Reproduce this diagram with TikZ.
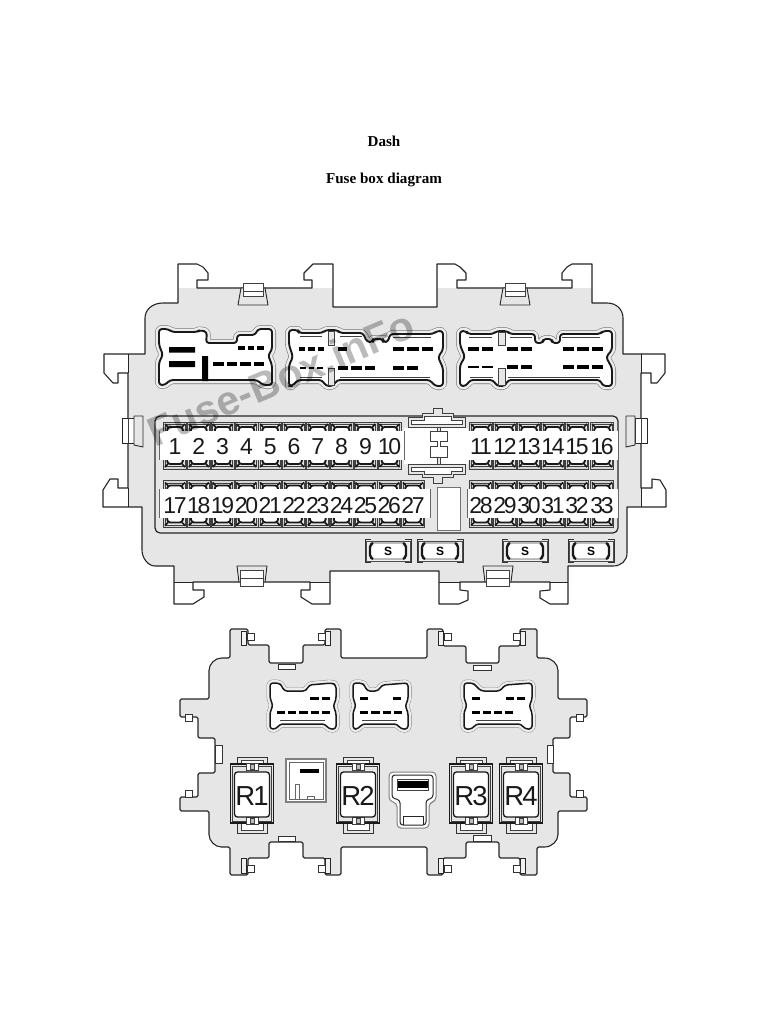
\documentclass[tikz,border=0pt]{standalone}
\usepackage{fontspec}
\setmainfont{Liberation Serif}
\newfontfamily\lsans[LetterSpace=-10]{Liberation Sans}
\newfontfamily\lsansr[LetterSpace=-6]{Liberation Sans}
\newfontfamily\lsansf{Liberation Sans}
\usetikzlibrary{calc}
\definecolor{bodygray}{HTML}{E6E6E6}
\definecolor{midgray}{HTML}{BDBDBD}
\tikzset{
  titletext/.style={font=\bfseries\fontsize{15.1}{16}\selectfont,inner sep=0,anchor=base},
  fusetext/.style={font=\lsans\fontsize{23}{23}\selectfont,inner sep=0,text=black!90,anchor=base},
  relaytext/.style={font=\lsansr\fontsize{27.5}{27.5}\selectfont,inner sep=0,text=black!90,anchor=base},
  stext/.style={font=\lsansf\bfseries\fontsize{12}{12}\selectfont,inner sep=0},
  outline/.style={draw=black!85,line width=1.1pt,line join=round},
  thin part/.style={draw=black!75,line width=.6pt},
  pin/.style={draw=black!80,line width=.8pt,fill=white},
}
\newcommand{\conn}[2][3]{%
  \draw[rounded corners=#1pt,line join=round,line width=8pt,draw=black!55] #2 -- cycle;
  \draw[rounded corners=#1pt,line join=round,line width=6.9pt,draw=bodygray!70!white] #2 -- cycle;
  \draw[rounded corners=#1pt,line join=round,line width=1.9pt,draw=black!90,fill=white] #2 -- cycle;
}
\newcommand{\drow}[5][3.2]{%
  \pgfmathsetmacro{\onlen}{(#3-#2-(#5-1)*3)/#5}
  \draw[line width=#1pt,black,dash pattern=on \onlen pt off 3pt] (#2,#4) -- (#3,#4);
}
\newcommand{\fuse}[2]{%
  \draw[thin part,fill=midgray!60] (#1-11.5,#2-23.5) rectangle (#1+11.5,#2+23.5);
  \draw[thin part,fill=bodygray] (#1-10,#2-21) rectangle (#1+10,#2+21);
  \draw[line width=1.9pt,draw=black!90,fill=white,rounded corners=3pt] (#1-7.8,#2-18.5) rectangle (#1+7.8,#2+18.5);
  \draw[line width=1.7pt,draw=black!90] (#1-10,#2-21.5) -- (#1-7,#2-18.5) (#1+10,#2-21.5) -- (#1+7,#2-18.5)
     (#1-10,#2+21.5) -- (#1-7,#2+18.5) (#1+10,#2+21.5) -- (#1+7,#2+18.5);
}
\newcommand{\relay}[2]{%
  \draw[line width=.8pt,draw=black!80,fill=bodygray] (#1-15,757) -- (#1+15,757) -- (#1+15,833) -- (#1-15,833) -- cycle;
  \draw[thin part,fill=white] (#1-11,760) rectangle (#1+11,830);
  \draw[line width=1.3pt,draw=black!90,fill=bodygray] (#1-21.5,764) rectangle (#1+21.5,823);
  \draw[thin part] (#1-19.5,766) rectangle (#1+19.5,821);
  \draw[thin part,fill=white] (#1-6,763) rectangle (#1+6,770);
  \draw[thin part,fill=midgray] (#1-2,764) rectangle (#1+2,769);
  \draw[thin part,fill=white] (#1-6,817) rectangle (#1+6,824);
  \draw[thin part,fill=midgray] (#1-2,818) rectangle (#1+2,823);
  \draw[line width=1.3pt,draw=black!90,fill=white,rounded corners=3pt] (#1-17.5,772) rectangle (#1+17.5,817);
  \node[relaytext] (relay#2) at (#1,805.5) {#2};
}
\newcommand{\lconn}[1]{%
  \draw[rounded corners=3pt,line join=round,line width=7pt,draw=black!50] #1 -- cycle;
  \draw[rounded corners=3pt,line join=round,line width=6.2pt,draw=bodygray!70!white] #1 -- cycle;
  \draw[rounded corners=3pt,line join=round,line width=1.5pt,draw=black!90,fill=white] #1 -- cycle;
}
\begin{document}
\begin{tikzpicture}[x=1pt,y=-1pt]
\useasboundingbox (0,0) rectangle (768,1024);
\fill[white] (0,0) rectangle (768,1024);
\node[titletext] (title1) at (384,147) {Dash};
\node[titletext] (title2) at (384,184) {Fuse box diagram};

%%%% upper box
\fill[bodygray] (178,288) -- (333,288) -- (333,307) -- (437,307) -- (437,288) -- (592,288) -- (592,303) -- (607,303)
  .. controls (617,303) and (623,310) .. (623,318) -- (623,354) -- (641,354) -- (641,507) -- (627,507) -- (627,553)
  .. controls (627,561) and (621,566) .. (613,566) -- (568,566) -- (568,582) -- (439,582) -- (439,571) -- (330,571) -- (330,582) -- (174,582) -- (174,566)
  -- (155,566) .. controls (148,566) and (142,558) .. (142,550) -- (142,507) -- (128,507) -- (128,354) -- (145,354) -- (145,318)
  .. controls (145,310) and (152,303) .. (163,303) -- (178,303) -- cycle;
\draw[outline] (178,264) -- (197,264) -- (203,267) -- (208,273) -- (208,280) -- (197,280) -- (197,288) -- (312,288)
  -- (312,280) -- (304,280) -- (304,273) -- (313,264) -- (333,264) -- (333,307)
  -- (437,307) -- (437,264) -- (455,264) -- (460,267) -- (466,273) -- (466,280) -- (457,280) -- (457,288) -- (572,288) -- (572,280) -- (562,280) -- (562,273) -- (567,267) -- (572,264) -- (592,264)
  -- (592,303) -- (607,303) .. controls (617,303) and (623,310) .. (623,318) -- (623,354) -- (665,354) -- (665,373) -- (657,383) -- (651,383) -- (651,373) -- (641,373)
  -- (641,488) -- (652,488) -- (652,479) -- (660,480) -- (666,490) -- (666,507) -- (627,507) -- (627,553)
  .. controls (627,561) and (621,566) .. (613,566) -- (568,566) -- (568,604) -- (550,604) -- (540,598) -- (540,591) -- (550,590) -- (550,582) -- (460,582) -- (460,590) -- (468,591) -- (468,600) -- (459,604) -- (439,604) -- (439,571)
  -- (330,571) -- (330,604) -- (312,604) -- (301,597) -- (301,590) -- (310,590) -- (310,582) -- (193,582) -- (193,590) -- (204,590) -- (204,597) -- (193,604) -- (174,604) -- (174,566)
  -- (155,566) .. controls (148,566) and (142,558) .. (142,550) -- (142,507) -- (103,507) -- (103,490) -- (110,479) -- (118,479) -- (118,488) -- (128,488)
  -- (128,373) -- (118,373) -- (118,383) -- (113,383) -- (104,373) -- (104,354) -- (145,354) -- (145,318) .. controls (145,310) and (152,303) .. (163,303) -- (178,303) -- cycle;
\draw[outline,line width=.9pt] (174,582) -- (193,582) (330,582) -- (310,582) (439,582) -- (460,582) (568,582) -- (550,582) (128,354) -- (128,373) (641,354) -- (641,373) (128,488) -- (128,507) (641,488) -- (641,507);
\foreach \lx in {238,500}{
  \draw[outline,fill=bodygray,line width=.9pt] (\lx+3,288) -- (\lx,305) -- (\lx+30,305) -- (\lx+27,288) -- cycle;
  \draw[thin part,fill=white] (\lx+5,283) rectangle (\lx+25,296);
  \draw[thin part] (\lx+5,291) -- (\lx+25,291);
}
\foreach \lx in {237,483}{
  \draw[outline,fill=bodygray,line width=.9pt] (\lx,566) -- (\lx+30,566) -- (\lx+28,582) -- (\lx+2,582) -- cycle;
  \draw[thin part,fill=white] (\lx+3,570) rectangle (\lx+26,586);
  \draw[thin part] (\lx+3,578) -- (\lx+26,578);
}
\draw[outline,line width=.9pt,fill=white] (122,418) rectangle (134,443);
\draw[thin part] (128,418) -- (128,443);
\draw[outline,line width=.9pt,fill=bodygray] (134,416) -- (143,416) -- (143,447) -- (134,445) -- cycle;
\draw[outline,line width=.9pt,fill=white] (635,418) rectangle (647,443);
\draw[thin part] (641,418) -- (641,443);
\draw[outline,line width=.9pt,fill=bodygray] (626,416) -- (635,416) -- (635,445) -- (626,447) -- cycle;

%%% connectors, upper
\conn{(159,329) -- (168,329) -- (172,332) -- (197,332) -- (200,330) -- (207,332) -- (206,343) -- (237,343) -- (237,335) -- (255,335) -- (258,329) -- (272,329) -- (272,350) -- (268,355) -- (272,365) -- (272,385) -- (263,385) -- (257,380) -- (170,380) -- (165,385) -- (159,385) -- (159,362) -- (163,355) -- (159,345)}
\fill[black] (169,347) rectangle (195,352.5) (169,361) rectangle (195,367) (202,356) rectangle (208,381);
\drow{238}{264}{348}{3}
\drow{213}{264}{364}{4}

\conn{(289,330) -- (298,330) -- (299,333) -- (322,333) -- (326,330) -- (337,330) -- (340,333) -- (363,333) -- (367,342) -- (373,342) -- (373,339) -- (383,339) -- (383,342) -- (388,342) -- (390,334) -- (433,334) -- (437,331) -- (443,331) -- (443,350) -- (438,357) -- (443,368) -- (443,386) -- (435,386) -- (430,380) -- (337,380) -- (333,386) -- (326,386) -- (322,380) -- (298,380) -- (292,386) -- (289,386) -- (289,365) -- (293,357) -- (289,345)}
\draw[thin part,fill=bodygray] (328,331) rectangle (334,345) (328,368) rectangle (334,385);
\draw[thin part] (300,336) -- (322,336) (340,336) -- (362,336) (393,337) -- (431,337) (300,377) -- (322,377) (340,377) -- (430,377);
\drow{299}{324}{349}{3}
\drow{338}{347}{349}{1}
\drow{393}{433}{349}{3}
\drow[2.6]{300}{323}{368}{3}
\drow{338}{375}{368}{3}
\drow{393}{418}{368}{2}

\conn{(460,331) -- (466,331) -- (468,334) -- (493,334) -- (497,331) -- (507,331) -- (510,334) -- (535,334) -- (535,343) -- (543,343) -- (543,339) -- (552,339) -- (552,343) -- (560,343) -- (560,334) -- (600,334) -- (603,331) -- (612,331) -- (612,350) -- (606,357) -- (612,368) -- (612,386) -- (603,386) -- (600,380) -- (508,380) -- (505,386) -- (497,386) -- (493,380) -- (470,380) -- (466,386) -- (460,386) -- (460,365) -- (465,357) -- (460,345)}
\draw[thin part,fill=bodygray] (498,332) rectangle (505,345) (498,368) rectangle (505,385);
\draw[thin part] (469,337) -- (492,337) (510,337) -- (532,337) (562,337) -- (600,337) (470,377) -- (493,377) (508,377) -- (600,377);
\drow{468}{493}{349}{2}
\drow{507}{532}{349}{2}
\drow{563}{603}{349}{3}
\drow[2.6]{468}{493}{367}{2}
\drow{507}{532}{367}{2}
\drow{563}{603}{367}{3}

%%% fuse panel
\draw[outline,fill=bodygray,rounded corners=5pt,line width=1.2pt] (155,416) rectangle (618,533);
\foreach \fx in {175,198.8,222.6,246.4,270.2,294,317.8,341.6,365.4,389.5}{\fuse{\fx}{445.5}}
\foreach \fx in {481,505,529,553,577,602}{\fuse{\fx}{445.5}\fuse{\fx}{504}}
\foreach \fx in {175,198.8,222.6,246.4,270.2,294,317.8,341.6,365.4,389.2,413}{\fuse{\fx}{504}}
\fill[white] (159,431) rectangle (404,460);
\fill[white] (159,489) rectangle (430,518);
\fill[white] (404,428) rectangle (468,464);
\fill[white] (468,431) rectangle (618,460);
\fill[white] (468,489) rectangle (618,518);
\draw[thin part,draw=black!60] (159,431) -- (159,460) (159,489) -- (159,518) (430,489) -- (430,518) (467,489) -- (467,518) (618,431) -- (618,460) (404,431) -- (404,460);
\foreach \fx/\n in {175/1,198.8/2,222.6/3,246.4/4,270.2/5,294/6,317.8/7,341.6/8,365.4/9,389.5/10,481/11,505/12,529/13,553/14,577/15,602/16}{
  \node[fusetext] (fuse\n) at (\fx,454) {\n};
}
\foreach \fx/\n in {175/17,198.8/18,222.6/19,246.4/20,270.2/21,294/22,317.8/23,341.6/24,365.4/25,389.2/26,413/27,481/28,505/29,529/30,553/31,577/32,602/33}{
  \node[fusetext] (fuse\n) at (\fx,513) {\n};
}
% centre piece
\draw[thin part,line width=1pt,fill=bodygray] (408,417) -- (422,417) -- (422,413) -- (433,413) -- (433,408) -- (442,408) -- (442,413) -- (453,413) -- (453,417) -- (465,417) -- (465,427) -- (408,427) -- cycle;
\draw[thin part,fill=white] (411,420) -- (424,420) -- (424,416) -- (451,416) -- (451,420) -- (462,420) -- (462,424) -- (411,424) -- cycle;
\draw[thin part,line width=1pt,fill=bodygray] (408,464) -- (465,464) -- (465,474) -- (453,474) -- (453,477) -- (442,477) -- (442,483) -- (433,483) -- (433,477) -- (422,477) -- (422,474) -- (408,474) -- cycle;
\draw[thin part,fill=white] (411,467) -- (462,467) -- (462,471) -- (451,471) -- (451,474) -- (424,474) -- (424,471) -- (411,471) -- cycle;
\draw[thin part,line width=1pt,fill=bodygray] (437,427) rectangle (440,464);
\draw[thin part,line width=1pt,fill=white] (430,431) -- (447,431) -- (447,441) -- (440,441) -- (440,446) -- (447,446) -- (447,457) -- (430,457) -- (430,446) -- (437,446) -- (437,441) -- (430,441) -- cycle;
\draw[draw=black!55,line width=1pt,fill=white] (437,487) rectangle (460,530);
% S boxes
\foreach \sx/\sn in {365/1,417/2,502/3,568/4}{
  \draw[line width=.8pt,draw=black!70,fill=bodygray!60!white] (\sx+1,541) rectangle (\sx+45,561);
  \draw[line width=.8pt,draw=black!80] (\sx+6,539) -- (\sx,539) -- (\sx,562) -- (\sx+6,562) (\sx+40,539) -- (\sx+46,539) -- (\sx+46,562) -- (\sx+40,562);
  \draw[line width=.8pt,draw=black!70,fill=white,rounded corners=2pt] (\sx+5,543) rectangle (\sx+41,559);
  \draw[line width=2.3pt,draw=black!90,rounded corners=2pt] (\sx+8,543) -- (\sx+5,545) -- (\sx+5,557) -- (\sx+8,559) (\sx+38,543) -- (\sx+41,545) -- (\sx+41,557) -- (\sx+38,559);
  \node[stext] (sfuse\sn) at (\sx+23,551) {S};
}

%%%% lower box
\draw[outline,fill=bodygray,rounded corners=1.5pt] (230,658) -- (230,629) -- (248,629) -- (248,645) -- (269,645) -- (269,663) -- (303,663) -- (303,645) -- (325,645) -- (325,629) -- (341,629) -- (341,658)
  -- (427,658) -- (427,629) -- (443,629) -- (443,646) -- (466,646) -- (466,663) -- (499,663) -- (499,646) -- (520,646) -- (520,629) -- (537,629) -- (537,658) -- (543,658)
  .. controls (552,658) and (558,664) .. (558,672) -- (558,699) -- (587,699) -- (587,717) -- (570,717) -- (570,738) -- (553,738) -- (553,773) -- (570,773) -- (570,797) -- (587,797) -- (587,811) -- (558,811) -- (558,833)
  .. controls (558,841) and (552,847) .. (543,847) -- (537,847) -- (537,875) -- (520,875) -- (520,858) -- (499,858) -- (499,842) -- (466,842) -- (466,858) -- (443,858) -- (443,875) -- (427,875) -- (427,847)
  -- (341,847) -- (341,875) -- (325,875) -- (325,858) -- (303,858) -- (303,842) -- (269,842) -- (269,858) -- (248,858) -- (248,875) -- (230,875) -- (230,847) -- (223,847)
  .. controls (215,847) and (209,841) .. (209,833) -- (209,811) -- (180,811) -- (180,797) -- (198,797) -- (198,773) -- (215,773) -- (215,738) -- (198,738) -- (198,717) -- (180,717) -- (180,699) -- (209,699) -- (209,672)
  .. controls (209,664) and (215,658) .. (223,658) -- cycle;
\foreach \hx in {241,325,438,520}{
  \draw[line width=.9pt,draw=black!85,fill=bodygray!50!white] (\hx,631) rectangle (\hx+5,645);
  \draw[line width=.9pt,draw=black!85,fill=bodygray!50!white] (\hx,858) rectangle (\hx+5,873);
}
\foreach \px/\py in {247/633,318/633,444/633,513/633,247/865,318/865,444/865,513/865,185/714,185/790,576/714,576/790}{
  \draw[pin] (\px,\py) rectangle (\px+7,\py+7);
}
\draw[pin] (215,745) rectangle (222,763);
\draw[pin] (547,745) rectangle (553,763);
\draw[pin] (278,664) rectangle (295,669);
\draw[pin] (278,836) rectangle (295,841);
\draw[pin] (473,665) rectangle (491,670);
\draw[pin] (473,835) rectangle (491,841);

%%% lower connectors
\lconn{(270,683) -- (279,683) -- (282,686) -- (284,691) -- (306,691) -- (309,685) -- (332,683) -- (336,685) -- (336,700) -- (333,706) -- (336,712) -- (336,729) -- (329,729) -- (325,724) -- (280,724) -- (276,729) -- (270,729) -- (270,712) -- (273,706) -- (270,698)}
\lconn{(353,683) -- (362,683) -- (365,686) -- (367,691) -- (378,691) -- (382,685) -- (408,683) -- (408,700) -- (405,706) -- (408,712) -- (408,729) -- (401,729) -- (397,724) -- (362,724) -- (358,729) -- (353,729) -- (353,712) -- (356,706) -- (353,698)}
\lconn{(464,683) -- (473,683) -- (476,686) -- (481,691) -- (500,691) -- (505,685) -- (532,683) -- (532,700) -- (529,706) -- (532,712) -- (532,729) -- (525,729) -- (521,724) -- (476,724) -- (472,729) -- (464,729) -- (464,712) -- (467,706) -- (464,698)}
\draw[thin part] (280,720) -- (325,720) (362,720) -- (397,720) (476,720) -- (521,720);
\drow[3]{310}{330}{698}{2}
\drow[3]{277}{330}{712}{5}
\drow[3]{360}{368}{698}{1}
\drow[3]{393}{401}{698}{1}
\drow[3]{360}{402}{712}{4}
\drow[3]{472}{480}{698}{1}
\drow[3]{506}{525}{698}{2}
\drow[3]{472}{513}{712}{4}

%%% relays
\relay{252}{R1}
\relay{358}{R2}
\relay{471}{R3}
\relay{521}{R4}
\draw[line width=1.3pt,draw=black!50,fill=white] (286,759) rectangle (326,802);
\draw[thin part,draw=black!60] (289,762) rectangle (323,799);
\fill[black] (300,769) rectangle (319,772.5);
\draw[thin part,draw=black!60] (295,799) -- (295,784) -- (299,784) -- (299,799) (307,799) -- (307,796) -- (314,796) -- (314,799);
\draw[line width=1pt,draw=black!50,fill=white,rounded corners=4pt] (389,772) -- (436,772) -- (436,801) -- (429,803) -- (429,828) -- (397,828) -- (397,803) -- (389,801) -- cycle;
\draw[line width=1pt,draw=black!85,fill=white,rounded corners=3pt] (392,775) -- (433,775) -- (433,798) -- (426,800) -- (426,825) -- (400,825) -- (400,800) -- (392,798) -- cycle;
\fill[black] (397,781) rectangle (428,788);
\draw[thin part] (397,779) rectangle (428,790);
\draw[line width=1pt,draw=black!85] (403,825) -- (403,816) -- (423,816) -- (423,825);

%%% watermark
\node[font=\lsansf\bfseries\fontsize{41}{41}\selectfont,text=black,opacity=.27,rotate=23,inner sep=0] (mark) at (281,378) {Fuse-Box.inFo};
\end{tikzpicture}
\end{document}
